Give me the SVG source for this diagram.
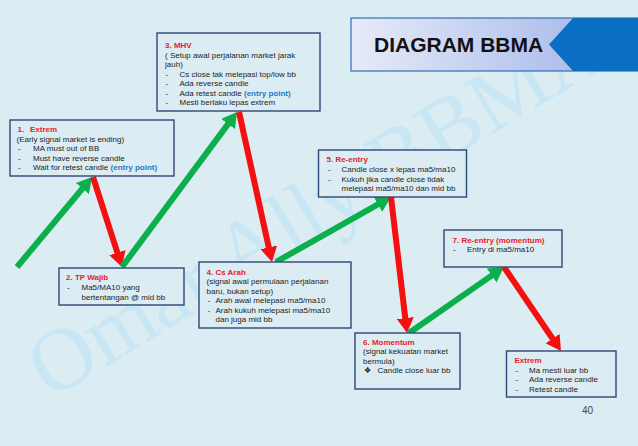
<svg xmlns="http://www.w3.org/2000/svg" width="638" height="446" viewBox="0 0 638 446">
<defs>
<linearGradient id="tg" x1="0" y1="0" x2="1" y2="0">
<stop offset="0" stop-color="#e6ebf8"/>
<stop offset="1" stop-color="#9db0e8"/>
</linearGradient>
<marker id="ag" markerUnits="userSpaceOnUse" markerWidth="16" markerHeight="17" refX="2" refY="8.5" orient="auto" viewBox="0 0 16 17">
<path d="M0,0 L15,8.5 L0,17 z" fill="#0bb04c"/>
</marker>
<marker id="ar" markerUnits="userSpaceOnUse" markerWidth="16" markerHeight="17" refX="2" refY="8.5" orient="auto" viewBox="0 0 16 17">
<path d="M0,0 L15,8.5 L0,17 z" fill="#f41010"/>
</marker>
</defs>
<style>
.box{fill:#dcecf3;stroke:#2b4877;stroke-width:1.4}
.t{font-family:"Liberation Sans",Arial,sans-serif;font-size:8px;fill:#1c1c1c}
.h{fill:#e8202a;font-weight:bold}
.ep{fill:#1f78c8;font-weight:bold}
.g{stroke:#0bb04c;stroke-width:6;fill:none}
.r{stroke:#f41010;stroke-width:6;fill:none}
</style>
<rect x="0" y="0" width="638" height="446" fill="#dcecf3"/>
<text x="0" y="0" transform="translate(50,400) rotate(-31)" font-family="'Liberation Serif','Times New Roman',serif" font-size="88" fill="#bfe4f5" opacity="0.65">Omar Ally BBMA</text>

<g id="title">
<rect x="351" y="18" width="290" height="53" fill="url(#tg)" stroke="#2e6fb8" stroke-width="1.2"/>
<polygon points="573,18 639,18 639,71 573,71 549,44.5" fill="#0a6fc2"/>
<text x="374" y="52" font-family="'Liberation Sans',Arial,sans-serif" font-size="21" font-weight="bold" fill="#111">DIAGRAM BBMA</text>
</g>

<g id="connectors">
<line class="g" x1="17" y1="267" x2="83.7" y2="187" marker-end="url(#ag)"/>
<line class="r" x1="93" y1="177" x2="118" y2="254.6" marker-end="url(#ar)"/>
<line class="g" x1="122" y1="267" x2="229.3" y2="122.4" marker-end="url(#ag)"/>
<line class="r" x1="239" y1="112" x2="269.2" y2="249.3" marker-end="url(#ar)"/>
<line class="g" x1="276" y1="262" x2="379.7" y2="203.4" marker-end="url(#ag)"/>
<line class="r" x1="391" y1="197" x2="405.5" y2="320.1" marker-end="url(#ar)"/>
<line class="g" x1="409" y1="333" x2="493.3" y2="274.4" marker-end="url(#ag)"/>
<line class="r" x1="504" y1="267" x2="553.7" y2="340.2" marker-end="url(#ar)"/>
</g>

<g id="n1">
<rect class="box" x="10" y="120" width="164" height="56"/>
<text class="t h" x="17.5" y="132">1.<tspan x="30">Extrem</tspan></text>
<text class="t" x="16.5" y="141.5">(Early signal market is ending)</text>
<text class="t" x="18" y="151">-<tspan x="33">MA must out of BB</tspan></text>
<text class="t" x="18" y="160.5">-<tspan x="33">Must have reverse candle</tspan></text>
<text class="t" x="18" y="170">-<tspan x="33">Wait for retest candle </tspan><tspan class="ep">(entry point)</tspan></text>
</g>

<g id="n2">
<rect class="box" x="59" y="268" width="125" height="37"/>
<text class="t h" x="66" y="280">2. TP Wajib</text>
<text class="t" x="67" y="290">-<tspan x="81.5">Ma5/MA10 yang</tspan></text>
<text class="t" x="81.5" y="299.5">bertentangan @ mid bb</text>
</g>

<g id="n3">
<rect class="box" x="157" y="33" width="163" height="78"/>
<text class="t h" x="165" y="48">3. MHV</text>
<text class="t" x="165" y="57.5">( Setup awal perjalanan market jarak</text>
<text class="t" x="165" y="67">jauh)</text>
<text class="t" x="165.5" y="76.5">-<tspan x="179.5">Cs close tak melepasi top/low bb</tspan></text>
<text class="t" x="165.5" y="86">-<tspan x="179.5">Ada reverse candle</tspan></text>
<text class="t" x="165.5" y="95.5">-<tspan x="179.5">Ada retest candle </tspan><tspan class="ep">(entry point)</tspan></text>
<text class="t" x="165.5" y="105">-<tspan x="179.5">Mesti berlaku lepas extrem</tspan></text>
</g>

<g id="n4">
<rect class="box" x="199" y="262" width="152" height="66"/>
<text class="t h" x="206.5" y="274.5">4. Cs Arah</text>
<text class="t" x="206.5" y="284">(signal awal permulaan perjalanan</text>
<text class="t" x="206.5" y="293.5">baru, bukan setup)</text>
<text class="t" x="207.5" y="303">-<tspan x="215.5">Arah awal melepasi ma5/ma10</tspan></text>
<text class="t" x="207.5" y="312.5">-<tspan x="215.5">Arah kukuh melepasi ma5/ma10</tspan></text>
<text class="t" x="215.5" y="322">dan juga mid bb</text>
</g>

<g id="n5">
<rect class="box" x="318.5" y="150" width="148" height="47"/>
<text class="t h" x="326.5" y="162">5. Re-entry</text>
<text class="t" x="328" y="172">-<tspan x="341.5">Candle close x lepas ma5/ma10</tspan></text>
<text class="t" x="328" y="181.5">-<tspan x="341.5">Kukuh jika candle close tidak</tspan></text>
<text class="t" x="341.5" y="191">melepasi ma5/ma10 dan mid bb</text>
</g>

<g id="n6">
<rect class="box" x="355" y="333" width="105" height="56"/>
<text class="t h" x="363" y="344.5">6. Momentum</text>
<text class="t" x="363" y="354">(signal kekuatan market</text>
<text class="t" x="363" y="363.5">bermula)</text>
<text class="t" x="363.5" y="373">❖<tspan x="377.5">Candle close luar bb</tspan></text>
</g>

<g id="n7">
<rect class="box" x="444" y="230" width="118" height="37"/>
<text class="t h" x="452.5" y="242.5">7. Re-entry (momentum)</text>
<text class="t" x="453" y="252">-<tspan x="467">Entry di ma5/ma10</tspan></text>
</g>

<g id="n8">
<rect class="box" x="506.5" y="351" width="109.5" height="46"/>
<text class="t h" x="514.5" y="363">Extrem</text>
<text class="t" x="515.5" y="372.5">-<tspan x="529">Ma mesti luar bb</tspan></text>
<text class="t" x="515.5" y="382">-<tspan x="529">Ada reverse candle</tspan></text>
<text class="t" x="515.5" y="391.5">-<tspan x="529">Retest candle</tspan></text>
</g>

<text x="582" y="414" font-family="'Liberation Sans',Arial,sans-serif" font-size="10" fill="#444">40</text>
</svg>
